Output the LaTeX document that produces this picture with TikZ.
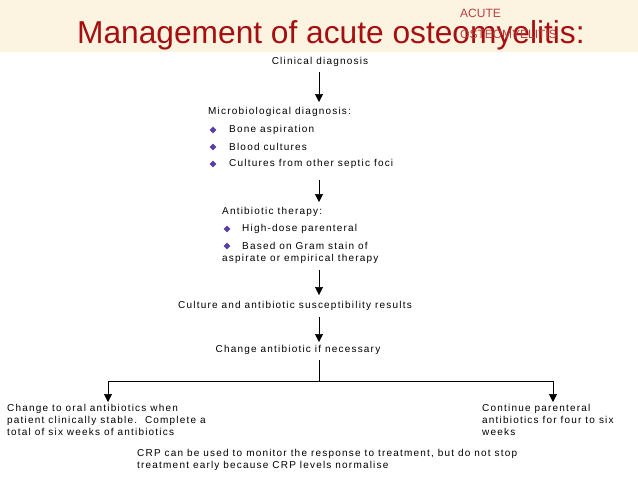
\documentclass[tikz,border=0pt]{standalone}
\usepackage{fontspec}
\setmainfont{Liberation Sans}
\newfontfamily\wide[LetterSpace=12]{Liberation Sans}
\usetikzlibrary{arrows.meta,shapes.geometric}
\definecolor{band}{HTML}{FDF3E1}
\definecolor{ttl}{HTML}{A50F0F}
\definecolor{bul}{HTML}{5B3FA8}
\tikzset{
 txt/.style={anchor=west,inner sep=0pt,font=\wide\fontsize{10}{12}\selectfont},
 ctxt/.style={inner sep=0pt,font=\wide\fontsize{10}{12}\selectfont},
 bl/.style={fill=bul,diamond,minimum size=7pt,inner sep=0pt},
 arr/.style={-{Triangle[length=8pt,width=8pt]},line width=0.7pt},
 ln/.style={line width=0.7pt}
}
\begin{document}
\begin{tikzpicture}[x=1pt,y=-1pt]
\useasboundingbox (0,0) rectangle (638,479);
\fill[band] (0,0) rectangle (638,52);
\node[anchor=west,inner sep=0pt,text=ttl,font=\fontsize{31.7}{32}\selectfont] (title) at (77,35) {Management of acute osteomyelitis:};
\node[anchor=west,inner sep=0pt,text=ttl!80,font=\fontsize{12}{12}\selectfont] (a1) at (460,13) {ACUTE};
\node[anchor=west,inner sep=0pt,text=ttl!80,font=\fontsize{12}{12}\selectfont] (a2) at (460,34) {OSTEOMYELITIS};
\node[ctxt] (clin) at (320,62) {Clinical diagnosis};
\node[txt] (micro) at (208,112) {Microbiological diagnosis:};
\node[bl] (b1) at (213,130) {}; \node[txt] (m1) at (229,130) {Bone aspiration};
\node[bl] (b2) at (213,147) {}; \node[txt] (m2) at (229,147) {Blood cultures};
\node[bl] (b3) at (213,164) {}; \node[txt] (m3) at (229,164) {Cultures from other septic foci};
\coordinate (a1s) at (319,72); \coordinate (a1e) at (319,102);
\coordinate (a2s) at (319,180); \coordinate (a2e) at (319,202);
\node[txt] (anti) at (222,212) {Antibiotic therapy:};
\node[bl] (b4) at (227,229) {}; \node[txt] (t1) at (242,229) {High-dose parenteral};
\node[bl] (b5) at (227,246) {}; \node[txt] (t2) at (242,246) {Based on Gram stain of};
\node[txt] (t3) at (222,259) {aspirate or empirical therapy};
\coordinate (a3s) at (319,270); \coordinate (a3e) at (319,295);
\node[ctxt] (cult) at (295,306) {Culture and antibiotic susceptibility results};
\coordinate (a4s) at (319,317); \coordinate (a4e) at (319,342);
\node[ctxt] (chg) at (298,350) {Change antibiotic if necessary};
\coordinate (s) at (319,360); \coordinate (j) at (319,381);
\coordinate (jl) at (108,381); \coordinate (jr) at (553,381);
\coordinate (el) at (108,402); \coordinate (er) at (553,402);
\node[txt,align=left,anchor=north west] (left) at (7,404) {Change to oral antibiotics when\\patient clinically stable.\ \ Complete a\\total of six weeks of antibiotics};
\node[txt,align=left,anchor=north west] (right) at (482,404) {Continue parenteral\\antibiotics for four to six\\weeks};
\node[txt,align=left,anchor=north west] (crp) at (137,449) {CRP can be used to monitor the response to treatment, but do not stop\\treatment early because CRP levels normalise};
\draw[arr] (a1s) -- (a1e);
\draw[arr] (a2s) -- (a2e);
\draw[arr] (a3s) -- (a3e);
\draw[arr] (a4s) -- (a4e);
\draw[ln] (s) -- (j);
\draw[ln] (jl) -- (jr);
\draw[arr] (jl) -- (el);
\draw[arr] (jr) -- (er);
\end{tikzpicture}
\end{document}
